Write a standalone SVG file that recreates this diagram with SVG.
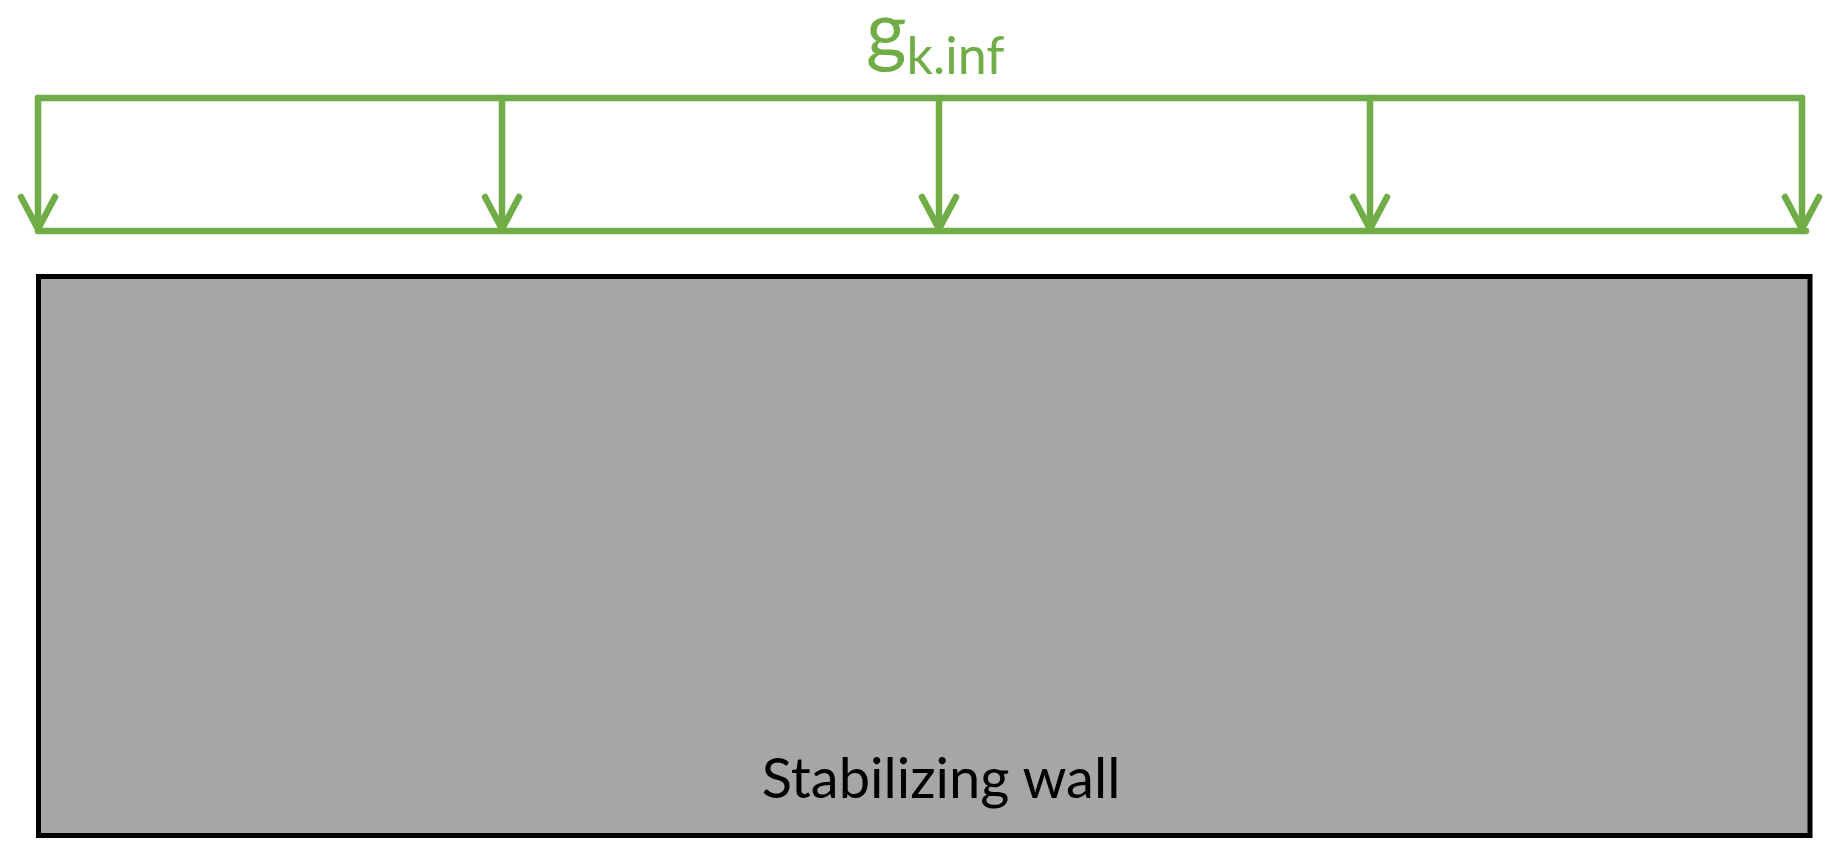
<svg xmlns="http://www.w3.org/2000/svg" width="1845" height="865" viewBox="0 0 1845 865">
<defs>
<style>
.load{stroke:#70ad47;stroke-width:6.5;fill:none;stroke-linecap:round;stroke-linejoin:round}
.lbl{font-family:Lato,"Open Sans","Liberation Sans",sans-serif;fill:#70ad47}
</style>
</defs>
<rect width="1845" height="865" fill="#ffffff"/>
<g id="wall">
<rect x="38.5" y="276.5" width="1771.5" height="559" fill="#a6a6a6" stroke="#000000" stroke-width="5"/>
<text x="941" y="798" text-anchor="middle" font-family="Lato,'Open Sans','Liberation Sans',sans-serif" font-size="56" fill="#000000">Stabilizing wall</text>
</g>
<g id="load-label">
<text class="lbl" x="866" y="57" font-size="78">g<tspan font-size="52" dy="17">k.inf</tspan></text>
</g>
<g id="connectors">
<path class="load" d="M38,98 H1802 M38,231 H1806"/>
<path class="load" d="M38,98 V229 M21,197 L38,229 L55,197"/>
<path class="load" d="M502,98 V229 M485,197 L502,229 L519,197"/>
<path class="load" d="M939,98 V229 M922,197 L939,229 L956,197"/>
<path class="load" d="M1370,98 V229 M1353,197 L1370,229 L1387,197"/>
<path class="load" d="M1802,98 V229 M1785,197 L1802,229 L1819,197"/>
</g>
</svg>
